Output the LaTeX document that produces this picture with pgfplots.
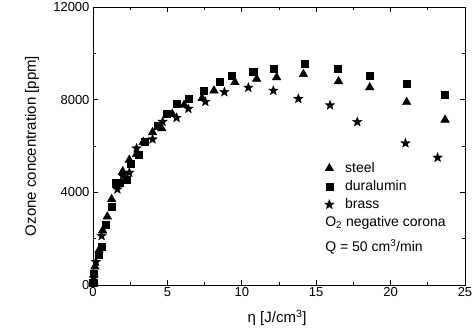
\documentclass[border=0pt]{standalone}
\usepackage{fontspec}
\setmainfont{Liberation Sans}
\usepackage{pgfplots}
\pgfplotsset{compat=1.18}
\pgfdeclareplotmark{fstar}{%
 \pgfpathmoveto{\pgfqpointpolar{90}{\pgfplotmarksize}}%
 \pgfpathlineto{\pgfqpointpolar{126}{0.42\pgfplotmarksize}}%
 \pgfpathlineto{\pgfqpointpolar{162}{\pgfplotmarksize}}%
 \pgfpathlineto{\pgfqpointpolar{198}{0.42\pgfplotmarksize}}%
 \pgfpathlineto{\pgfqpointpolar{234}{\pgfplotmarksize}}%
 \pgfpathlineto{\pgfqpointpolar{270}{0.42\pgfplotmarksize}}%
 \pgfpathlineto{\pgfqpointpolar{306}{\pgfplotmarksize}}%
 \pgfpathlineto{\pgfqpointpolar{342}{0.42\pgfplotmarksize}}%
 \pgfpathlineto{\pgfqpointpolar{18}{\pgfplotmarksize}}%
 \pgfpathlineto{\pgfqpointpolar{54}{0.42\pgfplotmarksize}}%
 \pgfpathclose\pgfusepathqfillstroke}
\begin{document}
\begin{tikzpicture}
\begin{axis}[
  scale only axis,
  width=372pt, height=278pt,
  xmin=0, xmax=25, ymin=0, ymax=12000,
  xtick={0,5,10,15,20,25},
  ytick={0,4000,8000,12000},
  scaled y ticks=false,
  minor x tick num=1, minor y tick num=1,
  tick align=inside,
  major tick length=5pt, minor tick length=3pt,
  tick style={black, line width=0.7pt},
  axis line style={line width=0.9pt},
  /pgf/number format/assume math mode=true,
  /pgf/number format/set thousands separator={},
  ticklabel style={font=\fontsize{13}{15}\selectfont},
  xticklabel style={yshift=1pt},
  xlabel={η [J/cm\textsuperscript{3}]},
  ylabel={Ozone concentration [ppm]},
  every axis x label/.style={at={(axis description cs:0.495,0)}, yshift=-33pt, anchor=center, font=\fontsize{15}{17}\selectfont},
  every axis y label/.style={at={(axis description cs:-0.164,0.5)}, rotate=90, anchor=center, font=\fontsize{15}{17}\selectfont},
  legend style={draw=none, fill=none, at={(axis cs:15.35,5470)}, anchor=north west,
    font=\fontsize{14}{16}\selectfont, row sep=2.5pt, column sep=9pt},
  legend cell align=left,
]
\addplot[only marks, mark=triangle*, mark size=5pt, black] coordinates {
(0.05,150)(0.13,790)(0.4,1500)(0.65,2350)(0.96,2950)(1.25,3700)(2.0,4900)(2.44,5400)(2.93,5650)(3.38,6170)(4.0,6590)(4.62,6760)(5.33,7380)(6.12,7770)(7.33,8060)(8.13,8390)(9.54,8750)(11.0,8890)(12.34,8960)(14.14,9100)(16.5,8790)(18.6,8530)(21.08,7890)(23.66,7130)
};
\addlegendentry{steel}
\addplot[only marks, mark=square*, mark size=3.6pt, black] coordinates {
(0.02,100)(0.05,500)(0.36,1300)(0.58,1650)(0.87,2590)(1.25,3380)(1.55,4390)(1.77,4420)(2.26,4560)(2.55,5220)(3.05,5610)(3.49,6170)(4.35,6890)(4.95,7410)(5.62,7840)(6.41,8040)(7.46,8390)(8.53,8760)(9.32,9040)(10.77,9210)(12.12,9350)(14.25,9540)(16.44,9320)(18.6,9020)(21.08,8680)(23.66,8230)
};
\addlegendentry{duralumin}
\addplot[only marks, mark=fstar, mark size=5pt, black, mark options={fill=black, line width=0.3pt}] coordinates {
(0.05,300)(0.2,1000)(0.58,2120)(1.64,4130)(2.0,4710)(2.44,4850)(2.93,5900)(4.0,6290)(4.68,7050)(5.62,7220)(6.41,7610)(7.55,7910)(8.83,8330)(10.44,8520)(12.12,8390)(13.8,8040)(15.93,7760)(17.76,7040)(21.0,6120)(23.16,5500)
};
\addlegendentry{brass}
\node[anchor=west, font=\fontsize{14}{16}\selectfont, inner sep=0pt] at (axis cs:15.6,2700) {O\textsubscript{2} negative corona};
\node[anchor=west, font=\fontsize{14}{16}\selectfont, inner sep=0pt] at (axis cs:15.6,1640) {Q = 50 cm\textsuperscript{3}/min};
\end{axis}
\pgfresetboundingbox
\path ([xshift=-93pt,yshift=-46pt]current axis.south west) rectangle ([xshift=9pt,yshift=7pt]current axis.north east);
\end{tikzpicture}
\end{document}
